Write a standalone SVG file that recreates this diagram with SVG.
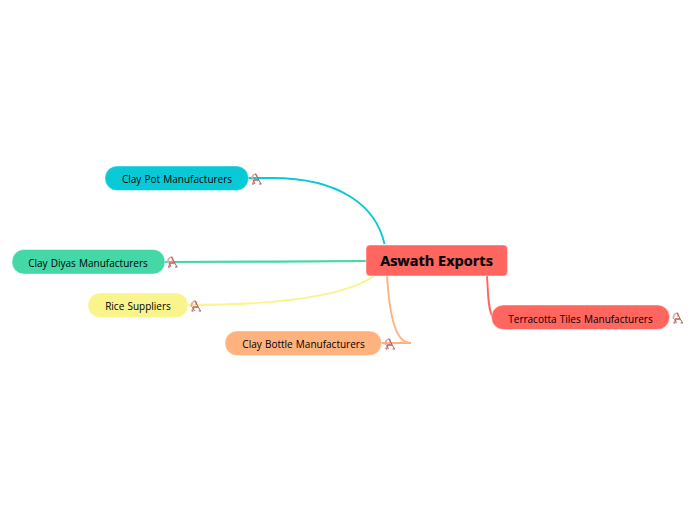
<svg xmlns="http://www.w3.org/2000/svg" width="696" height="520" viewBox="0 0 696 520">
<style>
text{font-family:"Open Sans","Noto Sans",sans-serif;fill:#000;text-anchor:middle}
.t{font-size:10px;word-spacing:.6px}
.r{font-size:14.5px;font-weight:700}
.c{fill:none;stroke-width:1.9}
.n{stroke:#fff;stroke-opacity:.45;stroke-width:1}
.ia{fill:none;stroke:#e0aaa6;stroke-width:1.800}
.ib{fill:none;stroke:#a5524c;stroke-width:.9}
</style>
<defs>
<g id="icon"><path class="ia" d="M-4.500 1 Q-5 -4 -1 -5 Q1 -4 0 -1 M-4 5 L-2 1 L2 1"/><path class="ib" d="M-1 -5 L4.500 5 M-1.500 5 L-3.500 1 M-3 1 L2 1 M2.500 5 L5 5 M-4.500 5 L-2.500 5"/></g>
</defs>
<g id="connectors">
<path class="c" stroke="#0ac9d6" d="M384.500 244 C376 206 340 178 272 178 L248 178"/>
<path class="c" stroke="#43d8a6" style="stroke-width:2.200" d="M366 261 C300 261.500 230 262 165 262"/>
<path class="c" stroke="#f9f48c" d="M374 276 C345 296 280 305 187 305"/>
<path class="c" stroke="#ffb27d" d="M387 276 C390 320 396 343 411 343 L381 343"/>
<path class="c" stroke="#ff6660" d="M487 276 C488 290 488 312 493 317"/>
</g>
<g id="root"><rect class="n" x="366" y="245" width="141.500" height="31" rx="4" fill="#ff6660"/><text class="r" x="436.500" y="266" stroke="#000" stroke-width=".2">Aswath Exports</text></g>
<g id="clay-pot"><rect class="n" x="105" y="166" width="143.500" height="24.500" rx="12" fill="#0ac9d6"/><text class="t" x="177" y="182.500">Clay Pot Manufacturers</text><use href="#icon" x="256.500" y="179"/></g>
<g id="clay-diyas"><rect class="n" x="12" y="249.500" width="153" height="24.500" rx="12" fill="#43d8a6"/><text class="t" x="88" y="266.500">Clay Diyas Manufacturers</text><use href="#icon" x="172.500" y="262"/></g>
<g id="rice"><rect class="n" x="88" y="293" width="100" height="24.500" rx="12" fill="#f9f48c"/><text class="t" x="138" y="309.500">Rice Suppliers</text><use href="#icon" x="196" y="306"/></g>
<g id="clay-bottle"><rect class="n" x="225" y="331" width="156.500" height="24.500" rx="12" fill="#ffb27d"/><text class="t" x="303.500" y="347.500">Clay Bottle Manufacturers</text><use href="#icon" x="390" y="344"/></g>
<g id="terracotta"><rect class="n" x="491.500" y="305" width="178" height="24.500" rx="12" fill="#ff6660"/><text class="t" x="580.500" y="322.500">Terracotta Tiles Manufacturers</text><use href="#icon" x="678" y="318"/></g>
</svg>
